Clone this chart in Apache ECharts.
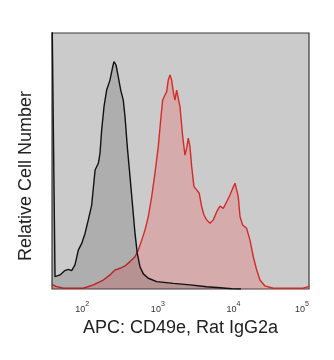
<!DOCTYPE html>
<html>
<head>
<meta charset="utf-8">
<script src="https://cdn.jsdelivr.net/npm/echarts@6/dist/echarts.min.js"></script>
<style>
html,body{margin:0;padding:0;background:#fff;}
#c{width:334px;height:360px;}
</style>
</head>
<body>
<div id="c"></div>
<script>
// x values are log10 of fluorescence intensity; y values are relative cell counts (% of axis height)
var isotypeLog = [1.600,1.640,1.706,1.770,1.816,1.860,1.904,1.948,1.993,2.037,2.080,2.125,2.170,2.213,2.235,2.257,2.288,2.323,2.367,2.403,2.420,2.447,2.477,2.509,2.543,2.566,2.596,2.632,2.667,2.698,2.728,2.764,2.808,2.874,2.985,3.205,3.425,3.646,3.822,3.977,4.100];
var isotypeCount = [110,4.8,5.5,7.2,7.7,7.2,9.4,15.2,17.8,21.7,27.0,32.8,46.5,49.1,53.0,62.1,71.2,77.7,81.6,86.8,88.8,87.5,82.9,77.7,73.8,67.3,55.6,43.9,32.2,21.7,13.9,8.7,5.9,4.2,2.9,2.2,1.6,0.9,0.5,0.1,0];

var cd49eLog = [1.600,1.650,1.750,2.014,2.146,2.279,2.367,2.433,2.499,2.566,2.632,2.698,2.742,2.787,2.830,2.874,2.919,2.962,3.006,3.038,3.064,3.095,3.117,3.138,3.161,3.183,3.204,3.227,3.249,3.267,3.293,3.329,3.359,3.382,3.403,3.425,3.448,3.478,3.514,3.548,3.580,3.611,3.646,3.690,3.734,3.779,3.822,3.866,3.911,3.954,3.990,4.021,4.043,4.064,4.087,4.122,4.175,4.219,4.263,4.308,4.351,4.417,4.527,4.924,4.990,5.000];
var cd49eCount = [1.8,1.0,0.3,0.3,1.6,3.5,5.5,7.4,8.1,9.0,10.7,12.6,15.2,19.1,23.0,28.3,36.1,45.2,55.6,66.0,73.8,75.8,77.1,81.6,83.6,81.6,77.1,73.8,77.7,78.4,71.2,59.5,52.3,55.0,58.9,55.6,47.8,40.0,38.7,37.4,32.2,28.9,27.0,25.7,27.0,30.2,32.4,31.5,34.1,36.7,39.3,41.3,40.6,36.1,28.3,25.0,23.7,19.1,12.6,7.4,3.5,1.2,0.3,0.3,0.9,1.2];

var tickDecades = [2, 3, 4, 5];
var xTitle = 'APC: CD49e, Rat IgG2a';
var yTitle = 'Relative Cell Number';

function pairs(xs, ys) { return xs.map(function (x, i) { return [x, ys[i]]; }); }

var chart = echarts.init(document.getElementById('c'), null, {renderer: 'canvas'});
chart.setOption({
  animation: false,
  backgroundColor: '#ffffff',
  grid: {
    left: 52, right: 25, top: 33, bottom: 71,
    show: true, backgroundColor: '#cbcbcb', borderColor: '#3a3a3a', borderWidth: 1.2
  },
  xAxis: {
    type: 'value', min: 1.6, max: 5,
    axisLine: {show: false}, axisTick: {show: false}, splitLine: {show: false},
    axisLabel: {
      customValues: tickDecades,
      margin: 12,
      alignMaxLabel: 'right',
      formatter: function (v) { return '{b|10}{s|' + Math.round(v) + '}'; },
      rich: {
        b: {fontSize: 9, fontFamily: 'Liberation Sans', color: '#333', verticalAlign: 'bottom'},
        s: {fontSize: 7, fontFamily: 'Liberation Sans', color: '#333', padding: [0, 0, 6, 0], verticalAlign: 'bottom'}
      }
    },
    name: xTitle, nameLocation: 'middle', nameGap: 11,
    nameTextStyle: {fontSize: 18, fontFamily: 'Liberation Sans', color: '#222'}
  },
  yAxis: {
    type: 'value', min: 0, max: 100,
    axisLine: {show: false}, axisTick: {show: false}, splitLine: {show: false}, axisLabel: {show: false},
    name: yTitle, nameLocation: 'middle', nameGap: 17,
    nameTextStyle: {fontSize: 18, fontFamily: 'Liberation Sans', color: '#222', padding: [0, 30, 0, 0]}
  },
  series: [
    {
      type: 'line', data: pairs(cd49eLog, cd49eCount), showSymbol: false, clip: true, z: 2,
      lineStyle: {color: '#d42a2a', width: 1.4},
      areaStyle: {color: 'rgba(255,50,50,0.3)', origin: 'start'}
    },
    {
      type: 'line', data: pairs(isotypeLog, isotypeCount), showSymbol: false, clip: true, z: 3,
      lineStyle: {color: '#111111', width: 1.4},
      areaStyle: {color: 'rgba(0,0,0,0.2)', origin: 'start'}
    }
  ]
});
</script>
</body>
</html>
